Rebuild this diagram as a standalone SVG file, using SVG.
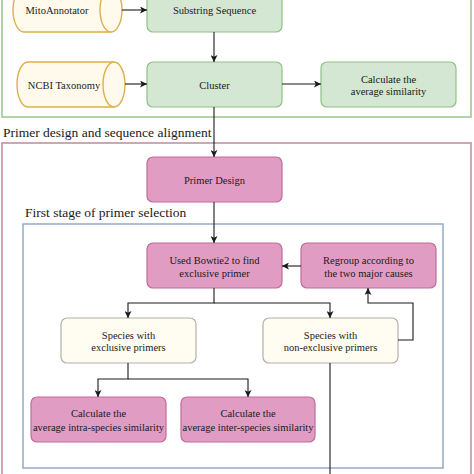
<svg xmlns="http://www.w3.org/2000/svg" width="474" height="474" viewBox="0 0 474 474">
<style>
.t{font-size:10.5px;text-anchor:middle}
.h{font-size:13.5px}
.g{fill:#d3e7d2;stroke:#8fc185;stroke-width:1.2}
.p{fill:#e19cc3;stroke:#c06c98;stroke-width:1.2}
.y{fill:#fffcf1;stroke:#b5b0aa;stroke-width:1.2}
.c{fill:#fffaeb;stroke:#dcb04e;stroke-width:1.4}
.e{stroke:#1a1a1a;stroke-width:1.1;fill:none}
</style>
<defs>
<marker id="ah" viewBox="0 0 10 10" refX="10" refY="5" markerWidth="7" markerHeight="7" markerUnits="userSpaceOnUse" orient="auto">
<path d="M0,0 L10,5 L0,10 L2.5,5 Z" fill="#1a1a1a"/>
</marker>
</defs>
<g font-family="Liberation Serif, Times New Roman, DejaVu Serif, serif" fill="#1a1a1a">
<rect x="0" y="0" width="474" height="474" fill="#ffffff"/>
<rect x="2" y="-10" width="469" height="127" fill="#ffffff" stroke="#9fc993" stroke-width="1.6"/>
<text class="h" x="3" y="137">Primer design and sequence alignment</text>
<rect x="2" y="143" width="469" height="345" fill="#ffffff" stroke="#c4909f" stroke-width="1.6"/>
<text class="h" x="25" y="217">First stage of primer selection</text>
<rect x="23" y="224" width="420" height="244" fill="#ffffff" stroke="#8ea3c2" stroke-width="1.4"/>

<g id="mito">
<path class="c" d="M24,-12 L111,-12 A11,22 0 0 1 111,32 L24,32 A11,22 0 0 1 24,-12 Z"/>
<path class="c" d="M111,-12 A11,22 0 0 0 111,32" fill="none"/>
<text class="t" x="57" y="13.5">MitoAnnotator</text>
</g>
<g id="substring">
<rect class="g" x="147" y="-13" width="135" height="45" rx="6"/>
<text class="t" x="214.5" y="13.5">Substring Sequence</text>
</g>
<g id="ncbi">
<path class="c" d="M28,62 L114,62 A11,22.5 0 0 1 114,107 L28,107 A11,22.5 0 0 1 28,62 Z"/>
<path class="c" d="M114,62 A11,22.5 0 0 0 114,107" fill="none"/>
<text class="t" x="64" y="88.5">NCBI Taxonomy</text>
</g>
<g id="cluster">
<rect class="g" x="147" y="62" width="135" height="45" rx="6"/>
<text class="t" x="214.5" y="88.5">Cluster</text>
</g>
<g id="avgsim">
<rect class="g" x="321" y="62" width="135" height="45" rx="6"/>
<text class="t" x="388.5" y="82.5">Calculate the</text>
<text class="t" x="388.5" y="94.5">average similarity</text>
</g>
<g id="primerdesign">
<rect class="p" x="147" y="157" width="135" height="45" rx="6"/>
<text class="t" x="214.5" y="183.5">Primer Design</text>
</g>
<g id="bowtie">
<rect class="p" x="147" y="243" width="135" height="45" rx="6"/>
<text class="t" x="214.5" y="263.5">Used Bowtie2 to find</text>
<text class="t" x="214.5" y="276.5">exclusive primer</text>
</g>
<g id="regroup">
<rect class="p" x="301" y="243" width="135" height="45" rx="6"/>
<text class="t" x="368.5" y="263.5">Regroup according to</text>
<text class="t" x="368.5" y="276.5">the two major causes</text>
</g>
<g id="exclusive">
<rect class="y" x="61" y="318" width="135" height="45" rx="6"/>
<text class="t" x="128.5" y="338.5">Species with</text>
<text class="t" x="128.5" y="350.5">exclusive primers</text>
</g>
<g id="nonexclusive">
<rect class="y" x="263" y="318" width="135" height="45" rx="6"/>
<text class="t" x="330.5" y="338.5">Species with</text>
<text class="t" x="330.5" y="350.5">non-exclusive primers</text>
</g>
<g id="intra">
<rect class="p" x="31" y="397" width="135" height="45" rx="6"/>
<text class="t" x="98.5" y="416.5">Calculate the</text>
<text class="t" x="98.5" y="430.5">average intra-species similarity</text>
</g>
<g id="inter">
<rect class="p" x="181" y="397" width="134" height="45" rx="6"/>
<text class="t" x="248" y="416.5">Calculate the</text>
<text class="t" x="248" y="430.5">average inter-species similarity</text>
</g>
</g>
<g id="connectors">
<path class="e" d="M122,10 L147,10" marker-end="url(#ah)"/>
<path class="e" d="M214,32 L214,62" marker-end="url(#ah)"/>
<path class="e" d="M125,84 L147,84" marker-end="url(#ah)"/>
<path class="e" d="M282,84 L321,84" marker-end="url(#ah)"/>
<path class="e" d="M214,107 L214,157" marker-end="url(#ah)"/>
<path class="e" d="M214,202 L214,243" marker-end="url(#ah)"/>
<path class="e" d="M301,266 L282,266" marker-end="url(#ah)"/>
<path class="e" d="M214,288 L214,303 L128,303 L128,318" marker-end="url(#ah)"/>
<path class="e" d="M214,303 L330,303 L330,318" marker-end="url(#ah)"/>
<path class="e" d="M398,340 L413,340 L413,303 L368,303 L368,288" marker-end="url(#ah)"/>
<path class="e" d="M128,363 L128,379 L98,379 L98,397" marker-end="url(#ah)"/>
<path class="e" d="M128,379 L248,379 L248,397" marker-end="url(#ah)"/>
<path class="e" d="M330,363 L330,474"/>
</g>
</svg>
